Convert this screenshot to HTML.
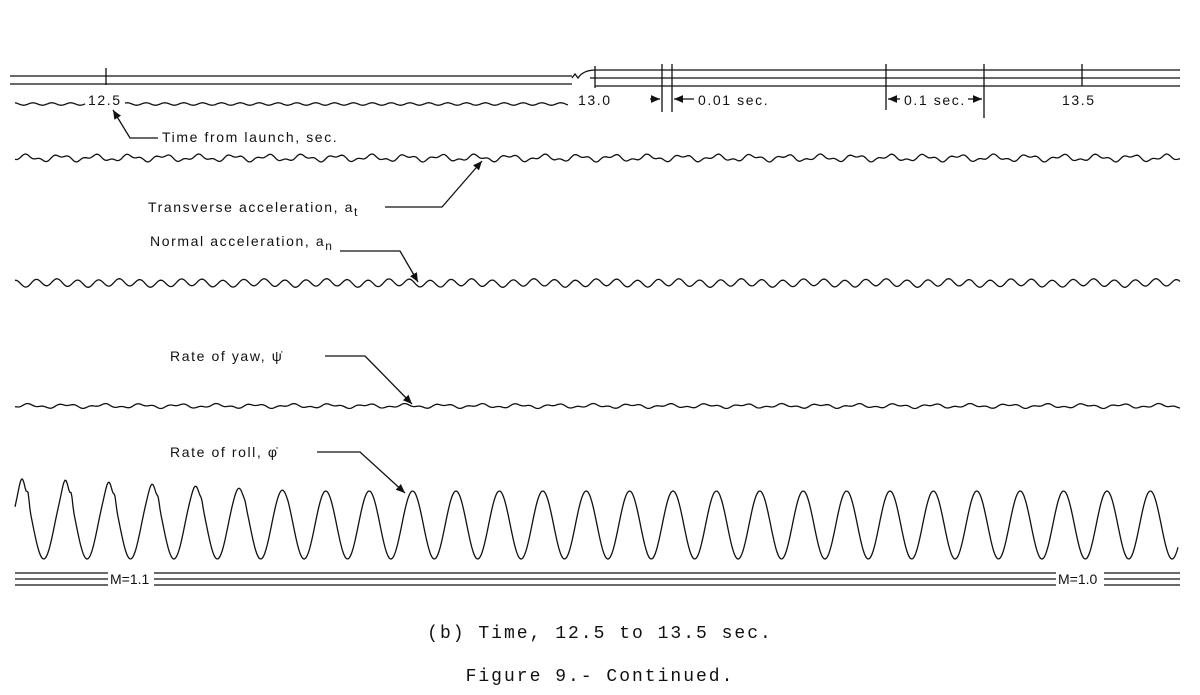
<!DOCTYPE html>
<html><head><meta charset="utf-8"><style>
body{margin:0;background:#fff;}
svg{display:block}
text{font-family:"Liberation Sans",sans-serif;font-size:14px;fill:#111;stroke:none;letter-spacing:1.6px}
.m{font-family:"Liberation Mono",monospace;font-size:18px;letter-spacing:2px}
</style></head><body>
<svg id="s" width="1200" height="695" viewBox="0 0 1200 695" xmlns="http://www.w3.org/2000/svg" stroke="#111" fill="none" stroke-width="1.3">
<defs><marker id="a" markerWidth="8" markerHeight="8" refX="7" refY="4" orient="auto"><path d="M0,1 L7,4 L0,7 z" fill="#111" stroke="none"/></marker></defs>
<line x1="10" y1="76" x2="572" y2="76"/><line x1="10" y1="84" x2="572" y2="84"/>
<path d="M572,78 l3,-4 l3,4 q5,-8 18,-8 L1180,70"/>
<line x1="590" y1="78" x2="1180" y2="78"/><line x1="595" y1="86" x2="1180" y2="86"/>
<line x1="595" y1="66" x2="595" y2="88"/>
<line x1="106" y1="68" x2="106" y2="85"/>
<line x1="662" y1="64" x2="662" y2="112"/><line x1="672" y1="64" x2="672" y2="112"/>
<line x1="886" y1="64" x2="886" y2="110"/><line x1="984" y1="64" x2="984" y2="118"/>
<line x1="1082" y1="64" x2="1082" y2="86"/>
<path id="w1"/><path id="w2"/><path id="w3"/><path id="w4"/><path id="w5"/><path id="w6"/>
<text x="88" y="105">12.5</text>
<text x="578" y="105">13.0</text>
<text x="1062" y="105">13.5</text>
<line x1="650" y1="99" x2="660" y2="99" marker-end="url(#a)"/>
<line x1="694" y1="99" x2="674" y2="99" marker-end="url(#a)"/>
<text x="698" y="105">0.01 sec.</text>
<line x1="900" y1="99" x2="888" y2="99" marker-end="url(#a)"/>
<text x="904" y="105">0.1 sec.</text>
<line x1="968" y1="99" x2="982" y2="99" marker-end="url(#a)"/>
<path d="M158,138 L130,138 L113,110" marker-end="url(#a)"/>
<text x="162" y="142">Time  from  launch, sec.</text>
<text x="148" y="212">Transverse  acceleration,  a<tspan font-size="12" dy="4">t</tspan></text>
<path d="M385,207 L442,207 L482,161" marker-end="url(#a)"/>
<text x="150" y="246">Normal  acceleration,  a<tspan font-size="12" dy="4">n</tspan></text>
<path d="M340,251 L400,251 L418,282" marker-end="url(#a)"/>
<text x="170" y="361">Rate  of  yaw,  ψ̇</text>
<path d="M325,356 L365,356 L412,404" marker-end="url(#a)"/>
<text x="170" y="457">Rate  of  roll,  φ̇</text>
<path d="M317,452 L360,452 L405,493" marker-end="url(#a)"/>
<line x1="15" y1="573" x2="1180" y2="573"/>
<line x1="15" y1="579" x2="1180" y2="579"/>
<line x1="15" y1="585" x2="1180" y2="585"/>
<rect x="108" y="570" width="46" height="18" fill="#fff" stroke="none"/>
<rect x="1056" y="570" width="48" height="18" fill="#fff" stroke="none"/>
<text x="110" y="584" style="letter-spacing:0">M=1.1</text>
<text x="1058" y="584" style="letter-spacing:0">M=1.0</text>
<text class="m" x="600" y="638" text-anchor="middle">(b) Time, 12.5 to 13.5 sec.</text>
<text class="m" x="600" y="681" text-anchor="middle">Figure 9.- Continued.</text>
</svg>
<script>
function wave(id,x0,x1,f){var d="";for(var x=x0;x<=x1;x+=1){d+=(x==x0?"M":"L")+x+","+f(x).toFixed(1);}document.getElementById(id).setAttribute("d",d);}
wave("w1",15,85,function(x){return 104+1.2*Math.sin(x/3);});
wave("w2",125,568,function(x){return 104+1.2*Math.sin(x/3);});
wave("w3",15,1180,function(x){return 158+2.5*Math.sin(x/5.5)+1.5*Math.sin(x/2.3);});
wave("w4",15,1180,function(x){return 283+3.5*Math.sin(x/3.3)+0.8*Math.sin(x/11);});
wave("w5",15,1180,function(x){return 406+1.5*Math.sin(x/6)+1*Math.sin(x/2.5);});
wave("w6",15,1178,function(x){var ph=((x-22)/43.4)%1;if(ph<0)ph+=1;var p=2*Math.PI*ph;var e=Math.max(0,Math.min(1,(300-x)/260));
 var c=Math.cos(p);var y=525-34*c-12*e*Math.pow(Math.max(0,c),6);
 var d=ph-0.14;y-=10*e*Math.exp(-d*d/0.0012);return y;});
</script>
</body></html>
